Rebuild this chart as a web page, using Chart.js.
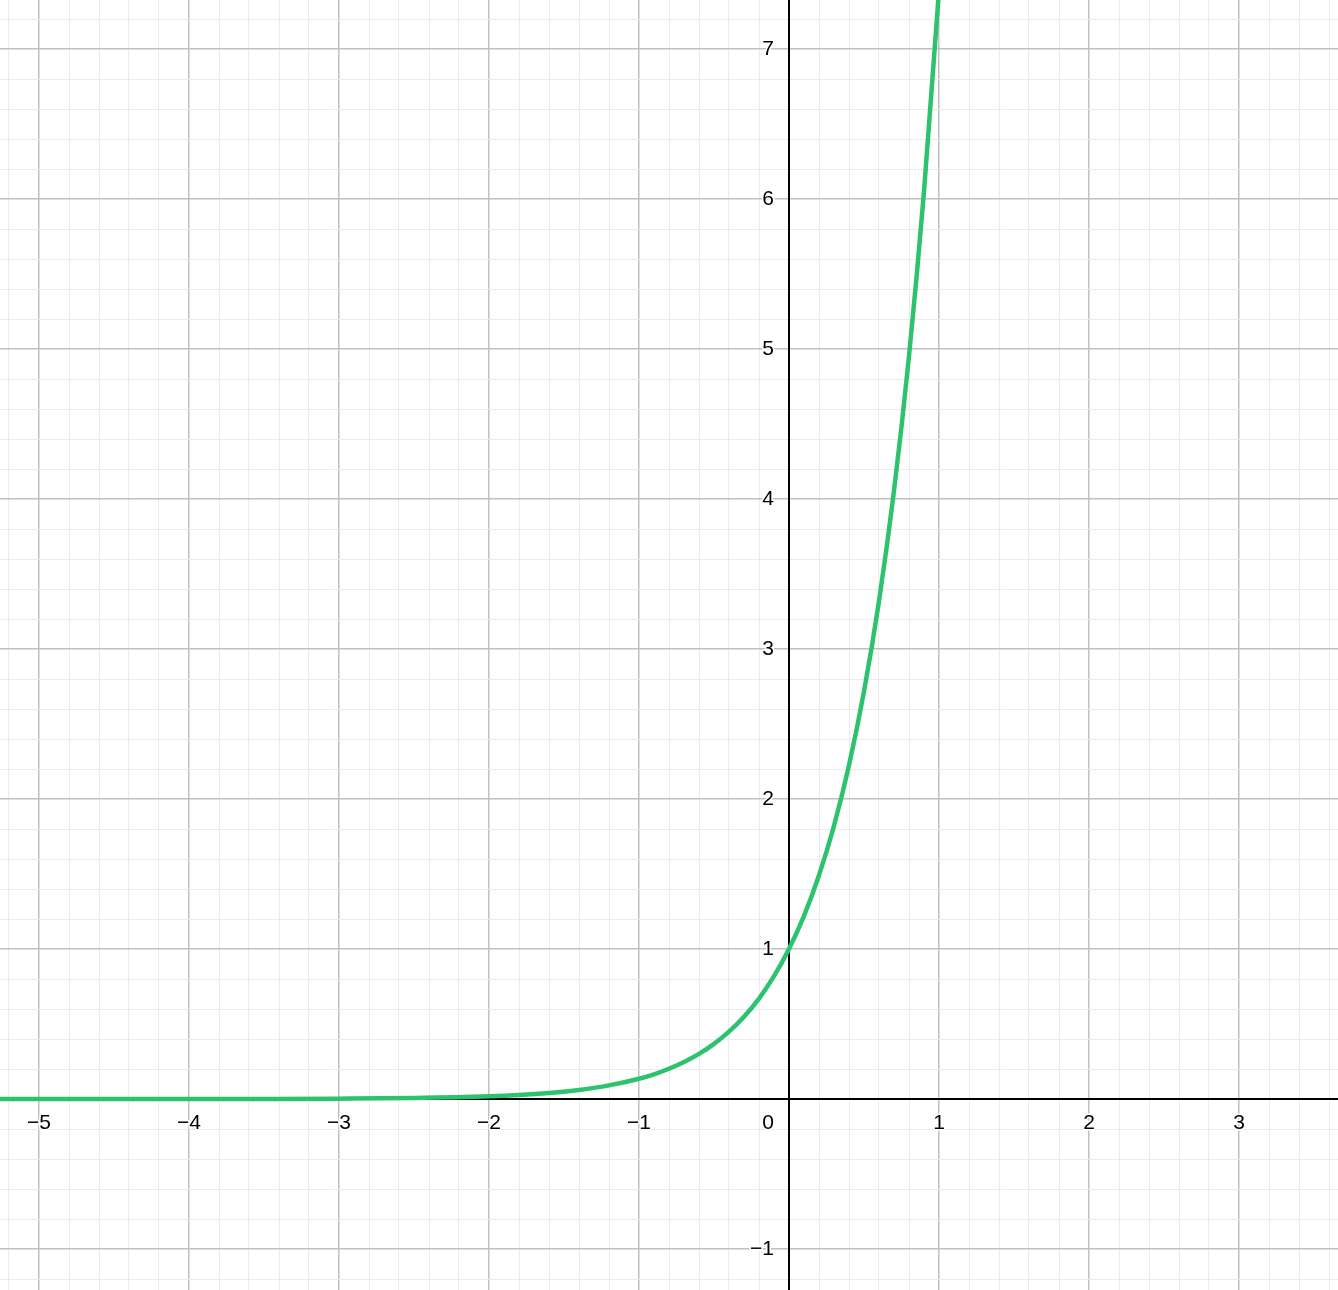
<!DOCTYPE html>
<html>
<head>
<meta charset="utf-8">
<style>
html,body{margin:0;padding:0;background:#fff;overflow:hidden;}
#wrap{position:absolute;left:0;top:0;width:1338px;height:1290px;}
</style>
<script src="https://cdn.jsdelivr.net/npm/chart.js@4"></script>
</head>
<body>
<div id="wrap"><canvas id="c"></canvas></div>
<script>
// Curve points
const xValues = [-5.3, -5.0, -4.5, -4.0, -3.5, -3.0, -2.5, -2.0, -1.8, -1.6, -1.4, -1.2, -1.0, -0.9, -0.8, -0.7, -0.6, -0.5, -0.4, -0.3, -0.2, -0.1, 0.0, 0.1, 0.2, 0.3, 0.4, 0.5, 0.6, 0.7, 0.8, 0.9, 1.0, 1.05];
const yValues = [0.00002, 0.00005, 0.0001, 0.0003, 0.0009, 0.0025, 0.0067, 0.018, 0.027, 0.041, 0.061, 0.091, 0.135, 0.165, 0.202, 0.247, 0.301, 0.368, 0.449, 0.549, 0.670, 0.819, 1.0, 1.221, 1.492, 1.822, 2.226, 2.718, 3.320, 4.055, 4.953, 6.050, 7.389, 8.166];
// Tick labels
const xTickLabels = [-5, -4, -3, -2, -1, 1, 2, 3];
const yTickLabels = [-1, 1, 2, 3, 4, 5, 6, 7];
// Visible window
const xRange = [-5.26, 3.66];
const yRange = [-1.273, 7.327];
const minorStep = 0.2;

const points = xValues.map((x, i) => ({x: x, y: yValues[i]}));

function gridTicks(scale) {
  const lo = Math.ceil(scale.min / minorStep - 1e-9);
  const hi = Math.floor(scale.max / minorStep + 1e-9);
  const t = [];
  for (let k = lo; k <= hi; k++) t.push({value: Math.round(k * minorStep * 10) / 10});
  scale.ticks = t;
}
function isMajor(v) { return Math.abs(v - Math.round(v)) < 1e-6; }
const gridOpts = {
  drawTicks: false,
  color: c => isMajor(c.tick.value) ? '#c0c0c0' : '#ebebeb',
  lineWidth: c => isMajor(c.tick.value) ? 1.5 : 1
};
const fmt = v => (v < 0 ? '\u2212' + Math.abs(v) : String(v));

const axesPlugin = {
  id: 'axes',
  beforeDatasetsDraw(chart) {
    const ctx = chart.ctx, xs = chart.scales.x, ys = chart.scales.y, a = chart.chartArea;
    const x0 = xs.getPixelForValue(0), y0 = ys.getPixelForValue(0);
    ctx.save();
    ctx.strokeStyle = '#000';
    ctx.lineWidth = 2;
    ctx.beginPath();
    ctx.moveTo(a.left, y0); ctx.lineTo(a.right, y0);
    ctx.moveTo(x0, a.top); ctx.lineTo(x0, a.bottom);
    ctx.stroke();
    ctx.restore();
  },
  afterDatasetsDraw(chart) {
    const ctx = chart.ctx, xs = chart.scales.x, ys = chart.scales.y;
    const x0 = xs.getPixelForValue(0), y0 = ys.getPixelForValue(0);
    ctx.save();
    ctx.font = '21px "Liberation Sans", Arial, sans-serif';
    ctx.fillStyle = '#000';
    ctx.strokeStyle = '#fff';
    ctx.lineWidth = 3;
    ctx.lineJoin = 'round';
    ctx.textBaseline = 'middle';
    ctx.textAlign = 'center';
    xTickLabels.forEach(v => {
      const px = xs.getPixelForValue(v), py = y0 + 24;
      ctx.strokeText(fmt(v), px, py);
      ctx.fillText(fmt(v), px, py);
    });
    ctx.textAlign = 'right';
    yTickLabels.forEach(v => {
      const px = x0 - 15, py = ys.getPixelForValue(v);
      ctx.strokeText(fmt(v), px, py);
      ctx.fillText(fmt(v), px, py);
    });
    ctx.strokeText('0', x0 - 15, y0 + 24);
    ctx.fillText('0', x0 - 15, y0 + 24);
    ctx.restore();
  }
};

new Chart(document.getElementById('c'), {
  type: 'scatter',
  data: {
    datasets: [{
      data: points,
      showLine: true,
      borderColor: '#2dc36e',
      borderWidth: 4.5,
      pointRadius: 0,
      cubicInterpolationMode: 'monotone',
      fill: false
    }]
  },
  options: {
    responsive: true,
    maintainAspectRatio: false,
    animation: false,
    layout: {padding: 0},
    plugins: {legend: {display: false}, tooltip: {enabled: false}},
    scales: {
      x: {
        type: 'linear', min: xRange[0], max: xRange[1],
        afterBuildTicks: gridTicks,
        ticks: {display: false},
        border: {display: false},
        grid: gridOpts
      },
      y: {
        type: 'linear', min: yRange[0], max: yRange[1],
        afterBuildTicks: gridTicks,
        ticks: {display: false},
        border: {display: false},
        grid: gridOpts
      }
    }
  },
  plugins: [axesPlugin]
});
</script>
</body>
</html>
